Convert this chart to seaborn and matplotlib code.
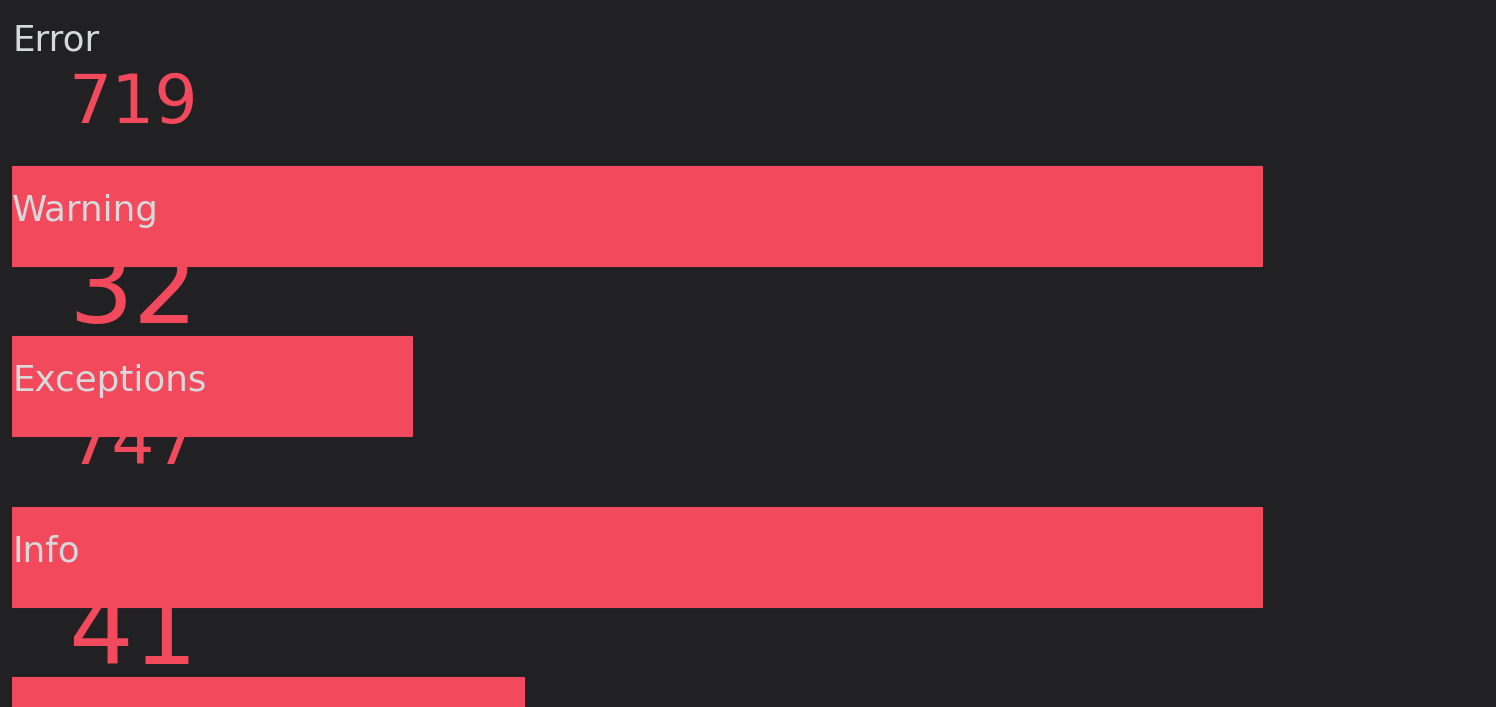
import matplotlib
matplotlib.use("Agg")
import matplotlib.pyplot as plt
import seaborn as sns
import pandas as pd

categories = ["Error", "Warning", "Exceptions", "Info"]
values = [719, 32, 747, 41]
gauge_max = 100

BG = "#212124"
RED = "#F2495C"
TXT = "#D8D9DA"

sns.set_theme(style="white")
plt.rcParams['font.family'] = ['DejaVu Sans']

W, H, DPI = 1496, 707, 100
fig = plt.figure(figsize=(W / DPI, H / DPI), dpi=DPI, facecolor=BG)
left_px = 12
ax = fig.add_axes([left_px / W, 0, (W - left_px) / W, 1])
ax.set_facecolor(BG)

df = pd.DataFrame({"cat": categories, "val": [min(v, gauge_max) for v in values]})

pitch = 170.3          # px per row
bar_px = 99
sns.barplot(data=df, x="val", y="cat", orient="h", color=RED, saturation=1,
            width=bar_px / pitch, ax=ax, zorder=2)
for p in ax.patches:
    p.set_edgecolor(RED)
    p.set_linewidth(1.5)
    p.set_joinstyle("round")

bar_span_px = 1250
ax.set_xlim(0, (W - left_px) / bar_span_px * gauge_max)
c0 = 216.5
ax.set_ylim((H - c0) / pitch, -c0 / pitch)

px2x = gauge_max / bar_span_px
for i, (cat, v) in enumerate(zip(categories, values)):
    ax.text(0, i - 166.0 / pitch, cat, color=TXT, fontsize=25.7,
            va="baseline", ha="left", zorder=3)
    em = 204 / len(str(v))
    fs = em * 72 / DPI
    base = -(93.5 - (em - 68) * 30 / 34) / pitch
    ax.text(56 * px2x, i + base, str(v), color=RED, fontsize=fs,
            va="baseline", ha="left", zorder=1)

ax.set_axis_off()
fig.savefig("out.png", dpi=DPI, facecolor=BG)
